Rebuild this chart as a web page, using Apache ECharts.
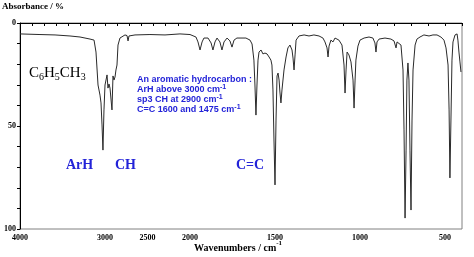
<!DOCTYPE html>
<html>
<head>
<meta charset="utf-8">
<script src="https://cdn.jsdelivr.net/npm/echarts@6/dist/echarts.min.js"></script>
<style>
  html, body { margin: 0; padding: 0; background: #fff; }
  #chart { width: 474px; height: 257px; }
</style>
</head>
<body>
<div id="chart"></div>
<script>
// IR spectrum of toluene
var wavenumbers = [
  4000, 3765, 3588, 3412, 3294, 3176, 3129, 3106, 3082, 3059, 3047, 3035, 3024, 3012, 3000,
  2976, 2965, 2953, 2941, 2918, 2906, 2894, 2882, 2871, 2859, 2847, 2824, 2812, 2765, 2741,
  2729, 2718, 2647, 2471, 2294, 2118, 2000, 1965, 1953, 1941, 1929, 1918, 1894, 1876, 1865,
  1853, 1841, 1824, 1812, 1800, 1782, 1765, 1753, 1741, 1724, 1671, 1647, 1635, 1624, 1618,
  1612, 1606, 1600, 1594, 1582, 1571, 1559, 1547, 1535, 1524, 1518, 1512, 1506, 1500, 1494,
  1488, 1482, 1476, 1471, 1465, 1459, 1447, 1435, 1424, 1412, 1400, 1394, 1388, 1382, 1376,
  1359, 1329, 1300, 1271, 1241, 1218, 1206, 1194, 1188, 1182, 1171, 1159, 1147, 1124, 1106,
  1094, 1088, 1082, 1076, 1065, 1053, 1041, 1035, 1029, 1024, 1012, 1000, 976, 947, 924,
  912, 906, 900, 888, 853, 818, 800, 788, 782, 771, 759, 747, 741, 735, 729,
  724, 718, 712, 706, 700, 694, 688, 676, 665, 647, 624, 594, 571, 547, 524,
  506, 494, 482, 476, 471, 465, 459, 453, 441, 435, 429, 424, 418, 412, 406
];
var absorbance = [
  5.3, 5.6, 5.8, 6.3, 6.8, 7.8, 8.3, 14.1, 30.1, 35.0, 38.8, 49.5, 61.7, 42.2, 30.1,
  25.2, 31.6, 29.6, 31.6, 42.2, 25.7, 27.7, 26.2, 22.8, 20.4, 10.7, 7.3, 6.8, 5.8, 6.1,
  8.7, 6.3, 5.8, 5.6, 5.8, 5.3, 5.6, 6.8, 9.2, 13.1, 9.2, 7.3, 7.3, 9.7, 13.1,
  9.2, 7.3, 9.2, 13.1, 9.2, 7.3, 8.7, 11.7, 8.3, 7.3, 7.3, 8.3, 10.2, 18.0, 30.1,
  44.7, 30.1, 18.0, 14.1, 13.1, 15.0, 14.6, 15.0, 16.5, 18.0, 20.4, 32.5, 56.8, 78.6, 47.1,
  25.7, 24.3, 27.7, 33.5, 38.8, 32.5, 22.8, 16.5, 12.1, 10.7, 13.1, 17.0, 22.8, 15.5, 8.3,
  6.3, 5.8, 6.3, 5.8, 6.3, 7.3, 9.2, 12.1, 16.5, 11.2, 8.3, 9.2, 7.3, 8.3, 10.7,
  20.4, 34.0, 22.8, 14.1, 15.5, 18.9, 27.7, 41.3, 27.7, 18.0, 11.2, 8.3, 7.3, 6.8, 7.3,
  9.7, 14.1, 9.2, 7.8, 7.3, 7.8, 8.7, 12.1, 9.2, 8.3, 10.7, 22.8, 51.9, 94.7, 61.7,
  27.7, 19.4, 27.7, 61.7, 90.8, 47.1, 22.8, 10.7, 7.8, 6.8, 5.8, 6.3, 5.8, 5.8, 6.8,
  8.3, 12.1, 20.4, 42.2, 75.2, 47.1, 18.0, 9.2, 5.8, 4.9, 5.3, 8.3, 14.1, 18.9, 23.8
];
var xLabelValues = [4000, 3000, 2500, 2000, 1500, 1000, 500];
var yLabelValues = [0, 50, 100];

// the axis is compressed 2x above 2000 cm-1, like the instrument plot
function toPos(w) {
  return w >= 2000 ? 4000 - w : 2000 + 2 * (2000 - w);
}
function toWave(p) {
  return p <= 2000 ? 4000 - p : 2000 - (p - 2000) / 2;
}

var xTicks = [];
for (var i = 0; i <= 14; i++) xTicks.push(Math.round(i * 1000 / 7));
for (var p = 2200; p <= 5200; p += 200) xTicks.push(p);
var yTicks = [0, 10, 20, 30, 40, 50, 60, 70, 80, 90, 100];

var serif = '"Liberation Serif", "DejaVu Serif", serif';
var blue = '#2323d8';

var chart = echarts.init(document.getElementById('chart'));

var option = {
  animation: false,
  backgroundColor: '#fff',
  grid: {
    left: 20, top: 23, width: 442, height: 206,
    show: true, borderColor: '#808080', borderWidth: 1
  },
  xAxis: {
    type: 'value',
    min: 0,
    max: 5200,
    splitLine: { show: false },
    axisLine: { show: true, lineStyle: { color: '#000', width: 1 } },
    axisTick: { show: true, length: 3, customValues: xTicks, lineStyle: { color: '#000' } },
    axisLabel: {
      customValues: xLabelValues.map(toPos),
      formatter: function (v) { return String(Math.round(toWave(v))); },
      fontFamily: serif, fontWeight: 'bold', fontSize: 8, color: '#000', margin: 5
    }
  },
  yAxis: {
    type: 'value',
    inverse: true,
    min: 0,
    max: 100,
    splitLine: { show: false },
    axisLine: { show: true, lineStyle: { color: '#000', width: 1 } },
    axisTick: { show: true, length: 3, customValues: yTicks, lineStyle: { color: '#000' } },
    axisLabel: {
      customValues: yLabelValues,
      fontFamily: serif, fontWeight: 'bold', fontSize: 8, color: '#000', margin: 4
    }
  },
  series: [{
    type: 'line',
    showSymbol: false,
    smooth: false,
    lineStyle: { color: '#2a2a2a', width: 1 },
    data: wavenumbers.map(function (w, k) { return [toPos(w), absorbance[k]]; })
  }],
  graphic: [
    {
      type: 'text', left: 2, top: 2,
      style: { text: 'Absorbance / %', font: 'bold 9px ' + serif, fill: '#000' }
    },
    {
      type: 'text', left: 194, top: 240,
      style: {
        text: '{a|Wavenumbers / cm}{s|-1}',
        rich: {
          a: { font: 'bold 10px ' + serif, fill: '#000', verticalAlign: 'bottom' },
          s: { font: 'bold 7px ' + serif, fill: '#000', verticalAlign: 'top', padding: [0, 0, 6, 0] }
        }
      }
    },
    {
      type: 'text', left: 29, top: 66,
      style: {
        text: '{a|C}{s|6}{a|H}{s|5}{a|CH}{s|3}',
        rich: {
          a: { font: '15px ' + serif, fill: '#000' },
          s: { font: '10px ' + serif, fill: '#000', padding: [7, 0, 0, 0] }
        }
      }
    },
    {
      type: 'text', left: 137, top: 75,
      style: {
        text: [
          '{a|An aromatic hydrocarbon :}',
          '{a|ArH above 3000 cm}{s|-1}',
          '{a|sp3 CH at 2900 cm}{s|-1}',
          '{a|C=C 1600 and 1475 cm}{s|-1}'
        ].join('\n'),
        lineHeight: 10,
        rich: {
          a: { font: 'bold 9px "Liberation Sans", Arial, sans-serif', fill: blue, lineHeight: 10 },
          s: { font: 'bold 7px "Liberation Sans", Arial, sans-serif', fill: blue, lineHeight: 10, padding: [0, 0, 5, 0] }
        }
      }
    },
    {
      type: 'text', left: 66, top: 158,
      style: { text: 'ArH', font: 'bold 14px ' + serif, fill: blue }
    },
    {
      type: 'text', left: 115, top: 158,
      style: { text: 'CH', font: 'bold 14px ' + serif, fill: blue }
    },
    {
      type: 'text', left: 236, top: 158,
      style: { text: 'C=C', font: 'bold 14px ' + serif, fill: blue }
    }
  ]
};

chart.setOption(option);
</script>
</body>
</html>
